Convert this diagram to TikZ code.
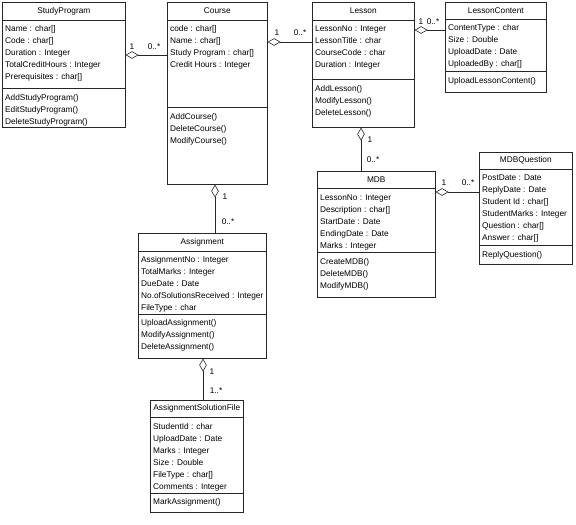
\documentclass[tikz,border=0pt]{standalone}
\usepackage{fontspec}
\setmainfont{Liberation Sans}
\usepackage{tikz}
\usetikzlibrary{calc,arrows.meta,positioning}

\tikzset{
  classbox/.style={draw=black!85, line width=0.6pt, rectangle, anchor=north west, inner sep=0pt},
  classname/.style={font=\fontsize{8.3}{12}\selectfont, inner sep=0pt},
  members/.style={font=\fontsize{8.3}{12}\selectfont, anchor=north west, align=left, inner sep=0pt, yshift=-2.5pt},
  mult/.style={font=\fontsize{8.3}{12}\selectfont, inner sep=0pt},
  compart/.style={draw=black!85, line width=0.6pt},
  aggr/.style={{Diamond[open,length=13pt,width=7.5pt,fill=white]}-, draw=black!85, line width=0.6pt},
}

\begin{document}
\begin{tikzpicture}[x=1pt, y=-1pt]
    \useasboundingbox (0,0) rectangle (576,525);

    % class boxes
    \node[classbox, minimum width=123pt, minimum height=125pt] (studyprogram) at (2,2) {};
    \node[classbox, minimum width=100pt, minimum height=182pt] (course) at (167,2) {};
    \node[classbox, minimum width=102pt, minimum height=125pt] (lesson) at (312,2) {};
    \node[classbox, minimum width=101pt, minimum height=90pt] (lessoncontent) at (445,2) {};
    \node[classbox, minimum width=118pt, minimum height=126pt] (mdb) at (317,171) {};
    \node[classbox, minimum width=93pt, minimum height=112pt] (mdbquestion) at (479,152) {};
    \node[classbox, minimum width=128pt, minimum height=125pt] (assignment) at (138,233) {};
    \node[classbox, minimum width=93pt, minimum height=112pt] (solutionfile) at (150,400) {};

    % compartment lines
    \foreach \cls/\ya/\yb in {studyprogram/20/88, course/20/107, lesson/20/79,
        lessoncontent/19/71, mdb/188/252, mdbquestion/169/245,
        assignment/251/314, solutionfile/417/493} {
        \draw[compart] (\cls.west |- 0,\ya) -- (\cls.east |- 0,\ya);
        \draw[compart] (\cls.west |- 0,\yb) -- (\cls.east |- 0,\yb);
    }

    % class names
    \node[classname] (studyprogram-name) at ($(studyprogram.north)+(0,9)$) {StudyProgram};
    \node[classname] (course-name) at ($(course.north)+(0,9)$) {Course};
    \node[classname] (lesson-name) at ($(lesson.north)+(0,9)$) {Lesson};
    \node[classname] (lessoncontent-name) at ($(lessoncontent.north)+(0,8.5)$) {LessonContent};
    \node[classname] (mdb-name) at ($(mdb.north)+(0,8.5)$) {MDB};
    \node[classname] (mdbquestion-name) at ($(mdbquestion.north)+(0,8.5)$) {MDBQuestion};
    \node[classname] (assignment-name) at ($(assignment.north)+(0,9)$) {Assignment};
    \node[classname] (solutionfile-name) at ($(solutionfile.north)+(0,8.5)$) {AssignmentSolutionFile};

    % attributes and operations
    \node[members] (studyprogram-attrs) at (5,23)
        {Name : char[]\\Code : char[]\\Duration : Integer\\TotalCreditHours : Integer\\Prerequisites : char[]};
    \node[members] (studyprogram-ops) at (5,92)
        {AddStudyProgram()\\EditStudyProgram()\\DeleteStudyProgram()};

    \node[members] (course-attrs) at (170,23)
        {code : char[]\\Name : char[]\\Study Program : char[]\\Credit Hours : Integer};
    \node[members] (course-ops) at (170,111)
        {AddCourse()\\DeleteCourse()\\ModifyCourse()};

    \node[members] (lesson-attrs) at (315,23)
        {LessonNo : Integer\\LessonTitle : char\\CourseCode : char\\Duration : Integer};
    \node[members] (lesson-ops) at (315,83)
        {AddLesson()\\ModifyLesson()\\DeleteLesson()};

    \node[members] (lessoncontent-attrs) at (448,22)
        {ContentType : char\\Size : Double\\UploadDate : Date\\UploadedBy : char[]};
    \node[members] (lessoncontent-ops) at (448,75)
        {UploadLessonContent()};

    \node[members] (mdb-attrs) at (320,192)
        {LessonNo : Integer\\Description : char[]\\StartDate : Date\\EndingDate : Date\\Marks : Integer};
    \node[members] (mdb-ops) at (320,256)
        {CreateMDB()\\DeleteMDB()\\ModifyMDB()};

    \node[members] (mdbquestion-attrs) at (482,172)
        {PostDate : Date\\ReplyDate : Date\\Student Id : char[]\\StudentMarks : Integer\\Question : char[]\\Answer : char[]};
    \node[members] (mdbquestion-ops) at (482,249)
        {ReplyQuestion()};

    \node[members] (assignment-attrs) at (141,254)
        {AssignmentNo : Integer\\TotalMarks : Integer\\DueDate : Date\\No.ofSolutionsReceived : Integer\\FileType : char};
    \node[members] (assignment-ops) at (141,317)
        {UploadAssignment()\\ModifyAssignment()\\DeleteAssignment()};

    \node[members] (solutionfile-attrs) at (153,421)
        {StudentId : char\\UploadDate : Date\\Marks : Integer\\Size : Double\\FileType : char[]\\Comments : Integer};
    \node[members] (solutionfile-ops) at (153,496)
        {MarkAssignment()};

    % aggregations
    \draw[aggr] (studyprogram.east |- 0,55) -- (course.west |- 0,55);
    \draw[aggr] (course.east |- 0,42) -- (lesson.west |- 0,42);
    \draw[aggr] (lesson.east |- 0,30) -- (lessoncontent.west |- 0,30);
    \draw[aggr] (lesson.south -| 361,0) -- (mdb.north -| 361,0);
    \draw[aggr] (mdb.east |- 0,192) -- (mdbquestion.west |- 0,192);
    \draw[aggr] (course.south -| 215,0) -- (assignment.north -| 215,0);
    \draw[aggr] (assignment.south -| 203,0) -- (solutionfile.north -| 203,0);

    % multiplicities
    \node[mult] (sp-course-one) at (132,47) {1};
    \node[mult] (sp-course-many) at (154,47) {0..*};
    \node[mult] (course-lesson-one) at (277,33) {1};
    \node[mult] (course-lesson-many) at (300,33) {0..*};
    \node[mult] (lesson-content-one) at (421,22) {1};
    \node[mult] (lesson-content-many) at (433,22) {0..*};
    \node[mult] (lesson-mdb-one) at (370,140) {1};
    \node[mult] (lesson-mdb-many) at (373,160) {0..*};
    \node[mult] (mdb-question-one) at (444,183) {1};
    \node[mult] (mdb-question-many) at (468,183) {0..*};
    \node[mult] (course-assign-one) at (225,197) {1};
    \node[mult] (course-assign-many) at (228,222) {0..*};
    \node[mult] (assign-file-one) at (212,372) {1};
    \node[mult] (assign-file-many) at (216,391) {1..*};
\end{tikzpicture}
\end{document}
